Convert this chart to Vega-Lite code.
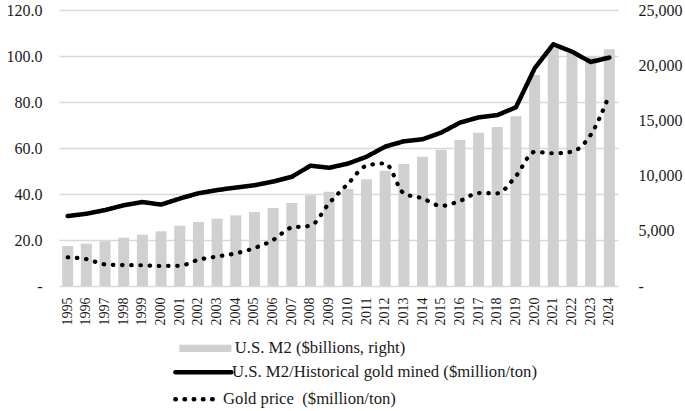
{
  "$schema": "https://vega.github.io/schema/vega-lite/v6.json",
  "width": 559,
  "height": 276,
  "autosize": {"type": "none"},
  "padding": {"left": 59, "top": 10, "right": 67, "bottom": 125},
  "background": "white",
  "config": {
    "view": {"stroke": null},
    "font": "Liberation Serif",
    "axis": {"labelColor": "#1a1a1a", "labelFont": "Liberation Serif"},
    "legend": {"labelColor": "#1a1a1a", "labelFont": "Liberation Serif", "padding": 0, "labelLimit": 0}
  },
  "data": {
    "values": [
      {"year": "1995", "m2": 3623, "ratio": 30.4, "gold": 12.5},
      {"year": "1996", "m2": 3833, "ratio": 31.4, "gold": 11.7},
      {"year": "1997", "m2": 4049, "ratio": 33.0, "gold": 9.4},
      {"year": "1998", "m2": 4375, "ratio": 35.1, "gold": 9.1},
      {"year": "1999", "m2": 4647, "ratio": 36.5, "gold": 9.0},
      {"year": "2000", "m2": 4951, "ratio": 35.4, "gold": 8.7},
      {"year": "2001", "m2": 5462, "ratio": 38.0, "gold": 8.8},
      {"year": "2002", "m2": 5797, "ratio": 40.3, "gold": 11.4},
      {"year": "2003", "m2": 6096, "ratio": 41.7, "gold": 12.8},
      {"year": "2004", "m2": 6400, "ratio": 42.8, "gold": 14.2},
      {"year": "2005", "m2": 6703, "ratio": 43.8, "gold": 16.5},
      {"year": "2006", "m2": 7065, "ratio": 45.4, "gold": 20.0},
      {"year": "2007", "m2": 7518, "ratio": 47.5, "gold": 25.4},
      {"year": "2008", "m2": 8213, "ratio": 52.3, "gold": 26.2},
      {"year": "2009", "m2": 8541, "ratio": 51.4, "gold": 36.0},
      {"year": "2010", "m2": 8786, "ratio": 53.2, "gold": 44.4},
      {"year": "2011", "m2": 9665, "ratio": 56.2, "gold": 52.3},
      {"year": "2012", "m2": 10444, "ratio": 60.6, "gold": 53.3},
      {"year": "2013", "m2": 11051, "ratio": 62.9, "gold": 40.3},
      {"year": "2014", "m2": 11712, "ratio": 63.8, "gold": 38.1},
      {"year": "2015", "m2": 12346, "ratio": 66.7, "gold": 34.8},
      {"year": "2016", "m2": 13225, "ratio": 71.0, "gold": 37.0},
      {"year": "2017", "m2": 13886, "ratio": 73.3, "gold": 40.4},
      {"year": "2018", "m2": 14402, "ratio": 74.3, "gold": 40.3},
      {"year": "2019", "m2": 15370, "ratio": 77.7, "gold": 47.8},
      {"year": "2020", "m2": 19112, "ratio": 94.6, "gold": 58.3},
      {"year": "2021", "m2": 21530, "ratio": 105.1, "gold": 57.7},
      {"year": "2022", "m2": 21105, "ratio": 101.9, "gold": 58.4},
      {"year": "2023", "m2": 20770, "ratio": 97.4, "gold": 65.7},
      {"year": "2024", "m2": 21440, "ratio": 99.3, "gold": 83.0}
    ]
  },
  "encoding": {
    "x": {
      "field": "year",
      "type": "ordinal",
      "scale": {"paddingInner": 0.41, "paddingOuter": 0.17},
      "axis": {"title": null, "labelAngle": -90, "labelFontSize": 14, "labelPadding": 11, "ticks": false, "domain": false}
    }
  },
  "layer": [
    {
      "mark": {"type": "bar", "color": "#d0d0d0"},
      "encoding": {
        "y": {
          "field": "m2",
          "type": "quantitative",
          "scale": {"domain": [0, 25000], "nice": false},
          "axis": {
            "orient": "right",
            "title": null,
            "values": [0, 5000, 10000, 15000, 20000, 25000],
            "grid": false,
            "ticks": false,
            "domain": false,
            "labelFontSize": 16,
            "labelPadding": 20,
            "labelExpr": "datum.value == 0 ? '\u00a0\u00a0-' : format(datum.value, ',')"
          }
        },
        "fill": {
          "datum": "U.S. M2 ($billions, right)",
          "scale": {"range": ["#d0d0d0"]},
          "legend": {
            "title": null,
            "orient": "none",
            "legendX": 116,
            "legendY": 330,
            "symbolType": "M-6.5,-0.9H6.5V0.9H-6.5Z",
            "symbolSize": 64,
            "symbolOffset": 22,
            "symbolStrokeWidth": 0,
            "labelOffset": 21,
            "labelFontSize": 16.7
          }
        }
      }
    },
    {
      "transform": [{"fold": ["ratio", "gold"], "as": ["series", "value"]}],
      "encoding": {
        "y": {
          "field": "value",
          "type": "quantitative",
          "scale": {"domain": [0, 120], "nice": false},
          "axis": {
            "orient": "left",
            "title": null,
            "values": [0, 20, 40, 60, 80, 100, 120],
            "grid": true,
            "gridColor": "#d9d9d9",
            "gridWidth": 1.5,
            "ticks": false,
            "domain": false,
            "labelFontSize": 16,
            "labelPadding": 17,
            "labelExpr": "datum.value == 0 ? '-\u00a0\u00a0' : format(datum.value, '.1f')"
          }
        },
        "strokeDash": {
          "field": "series",
          "type": "nominal",
          "scale": {"domain": ["ratio", "gold"], "range": [[1, 0], [0.5, 8.7]]},
          "legend": {
            "title": null,
            "orient": "none",
            "legendX": 116,
            "legendY": 354,
            "symbolType": "M-7,0H7",
            "symbolSize": 64,
            "symbolOffset": 20,
            "symbolStrokeWidth": 4.5,
            "symbolStrokeColor": "black",
            "labelOffset": 21,
            "labelFontSize": 16.7,
            "rowPadding": 8,
            "labelExpr": "datum.value == 'ratio' ? 'U.S. M2/Historical gold mined ($million/ton)' : 'Gold price\u00a0 ($million/ton)'",
            "encode": {
              "symbols": {
                "update": {
                  "strokeCap": {"value": "round"},
                  "shape": {"signal": "datum.value == 'gold' ? 'M-7,0H4' : 'M-7,0H7'"}
                }
              },
              "labels": {
                "update": {
                  "x": {"signal": "datum.value == 'gold' ? 48 : 57"}
                }
              }
            }
          }
        }
      },
      "layer": [
        {
          "transform": [{"filter": "datum.series == 'ratio'"}],
          "mark": {"type": "line", "interpolate": "linear", "strokeCap": "round", "strokeJoin": "round", "color": "black", "strokeWidth": 4.5}
        },
        {
          "transform": [{"filter": "datum.series == 'gold'"}],
          "mark": {"type": "line", "interpolate": "monotone", "strokeCap": "round", "color": "black", "strokeWidth": 4.2}
        }
      ]
    }
  ],
  "resolve": {"scale": {"y": "independent"}}
}
